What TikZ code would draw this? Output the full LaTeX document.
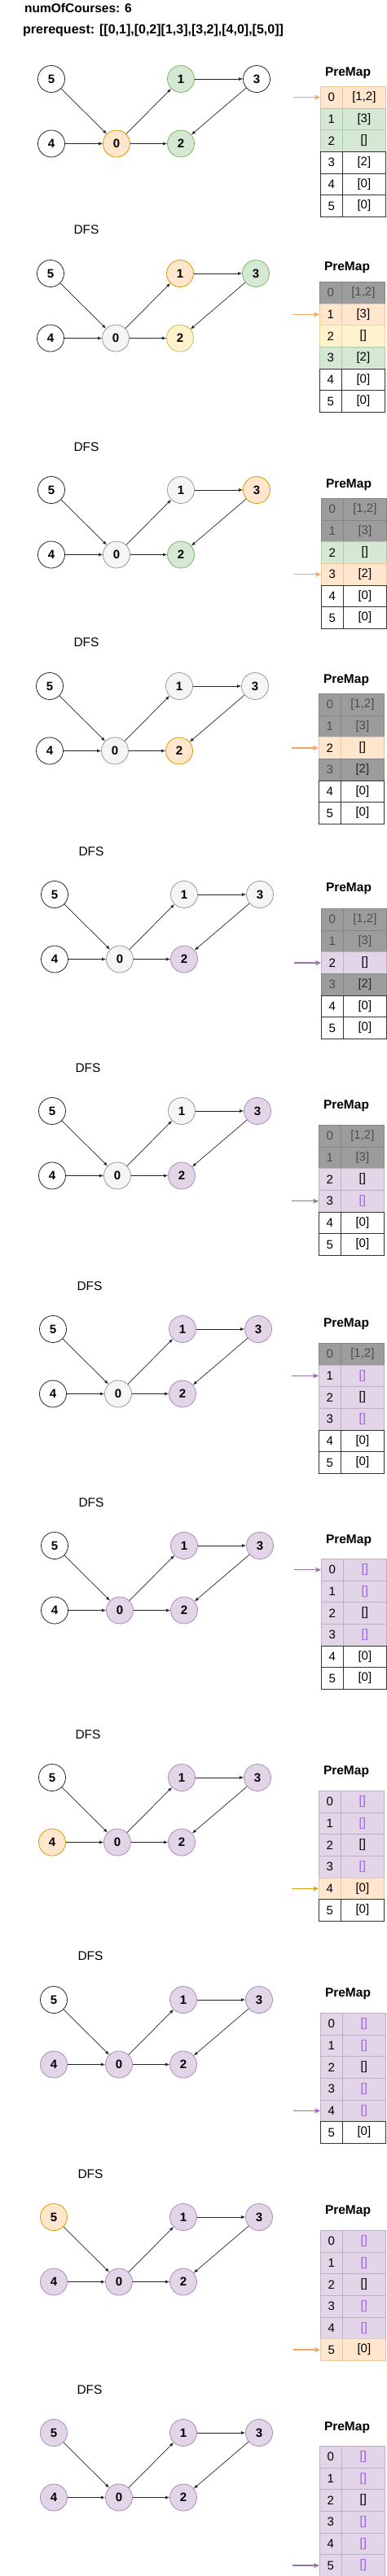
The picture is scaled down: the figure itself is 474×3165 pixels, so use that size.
\documentclass[tikz,border=0pt]{standalone}
\usepackage{fontspec}
\setmainfont{Liberation Sans}
\usetikzlibrary{arrows.meta}
\definecolor{orf}{HTML}{FFE6CC}\definecolor{ord}{HTML}{D79B00}
\definecolor{grf}{HTML}{D5E8D4}\definecolor{grd}{HTML}{82B366}
\definecolor{yef}{HTML}{FFF2CC}\definecolor{yed}{HTML}{D6B656}
\definecolor{lgf}{HTML}{F5F5F5}\definecolor{lgd}{HTML}{999999}
\definecolor{puf}{HTML}{E1D5E7}\definecolor{pud}{HTML}{A88DB8}
\definecolor{tgf}{HTML}{9C9C9C}\definecolor{tgd}{HTML}{858585}\definecolor{tgt}{HTML}{4D4D4D}
\definecolor{ocd}{HTML}{EBC79A}\definecolor{gcd}{HTML}{ADCBA7}
\definecolor{ycd}{HTML}{E6D7A3}\definecolor{pcd}{HTML}{BDB0C6}
\definecolor{vpur}{HTML}{A35CF2}
\definecolor{arrO}{HTML}{F4A562}\definecolor{arrP}{HTML}{9673A6}
\definecolor{arrG}{HTML}{D9A018}\definecolor{arrB}{HTML}{A855F7}
\tikzset{
 gnode/.style={circle,minimum size=33pt,inner sep=0pt,line width=0.8pt,font=\fontsize{15}{15}\selectfont\bfseries},
 nwh/.style={gnode,draw=black!85,fill=white},
 nor/.style={gnode,draw=ord,fill=orf},
 ngr/.style={gnode,draw=grd,fill=grf},
 nye/.style={gnode,draw=yed,fill=yef},
 nlg/.style={gnode,draw=lgd,fill=lgf},
 npu/.style={gnode,draw=pud,fill=puf},
 link/.style={line width=0.7pt,draw=black!85,-{Latex[length=5pt,width=4pt]}},
 cell/.style={rectangle,inner sep=0pt,minimum height=26.667pt,line width=0.8pt,font=\fontsize{15}{15}\selectfont},
 cw/.style={fill=white,draw=black!80,text=black},
 cg/.style={fill=tgf,draw=tgd,text=tgt},
 co/.style={fill=orf,draw=ocd,text=black},
 cgr/.style={fill=grf,draw=gcd,text=black},
 cy/.style={fill=yef,draw=ycd,text=black},
 cp/.style={fill=puf,draw=pcd,text=black},
 vp/.style={text=vpur},
 tarr/.style={line width=1.3pt,-{Stealth[length=7pt,width=6pt,inset=2pt]}},
 ttl/.style={font=\fontsize{15.5}{15.5}\selectfont\bfseries,inner sep=0pt,anchor=west},
 dfs/.style={font=\fontsize{15.5}{15.5}\selectfont,inner sep=0pt},
 pm/.style={font=\fontsize{15.5}{15.5}\selectfont\bfseries,inner sep=0pt},
}
\newcommand{\graphpanel}[9]{%
 \node[#4] (#1n5) at (#2,#3) {5};
 \node[#5] (#1n4) at (#2,#3+79.5) {4};
 \node[#6] (#1n0) at (#2+80,#3+79.5) {0};
 \node[#7] (#1n1) at (#2+159,#3) {1};
 \node[#8] (#1n2) at (#2+159,#3+79.5) {2};
 \node[#9] (#1n3) at (#2+252,#3) {3};
 \draw[link] (#1n5) -- (#1n0);
 \draw[link] (#1n4) -- (#1n0);
 \draw[link] (#1n0) -- (#1n1);
 \draw[link] (#1n0) -- (#1n2);
 \draw[link] (#1n1) -- (#1n3);
 \draw[link] (#1n3) -- (#1n2);
}
\newcommand{\pmrow}[7]{%
 \node[cell,#5,minimum width=27pt,anchor=north west] (#1r#4a) at (#2,#3+#4*26.667) {#4};
 \node[cell,#5,minimum width=53pt,anchor=north west,#7] (#1r#4b) at (#2+27,#3+#4*26.667) {#6};
}
\newcommand{\pmhead}[3]{\node[pm] (#1pm) at (#2+34,#3) {PreMap};}
\newcommand{\pmarrow}[3]{%
 \path (#1r#2a.west) ++(-33pt,0pt) coordinate (#1as);
 \draw[tarr,draw=#3,fill=#3] (#1as) -- (#1r#2a.west);
}
\begin{document}
\begin{tikzpicture}[x=1pt,y=-1pt]
\useasboundingbox (0,0) rectangle (474,3165);
\fill[white] (0,0) rectangle (474,3165);
\node[ttl] (t1) at (30,10) {numOfCourses: 6};
\node[ttl,font=\fontsize{16}{16}\selectfont\bfseries] (t2) at (28,37) {prerequest: [[0,1],[0,2][1,3],[3,2],[4,0],[5,0]]};
% Panel 1
\graphpanel{a}{63}{97}{nwh}{nwh}{nor}{ngr}{ngr}{nwh}
\pmhead{a}{393}{90}
\pmrow{a}{393}{106}{0}{co}{[1,2]}{}
\pmrow{a}{393}{106}{1}{cgr}{[3]}{}
\pmrow{a}{393}{106}{2}{cgr}{[]}{}
\pmrow{a}{393}{106}{3}{cw}{[2]}{}
\pmrow{a}{393}{106}{4}{cw}{[0]}{}
\pmrow{a}{393}{106}{5}{cw}{[0]}{}
\pmarrow{a}{0}{arrO}
% Panel 2
\node[dfs] (d2) at (106,282) {DFS};
\graphpanel{b}{62}{336}{nwh}{nwh}{nlg}{nor}{nye}{ngr}
\pmhead{b}{392}{329}
\pmrow{b}{392}{346}{0}{cg}{[1,2]}{}
\pmrow{b}{392}{346}{1}{co}{[3]}{}
\pmrow{b}{392}{346}{2}{cy}{[]}{}
\pmrow{b}{392}{346}{3}{cgr}{[2]}{}
\pmrow{b}{392}{346}{4}{cw}{[0]}{}
\pmrow{b}{392}{346}{5}{cw}{[0]}{}
\pmarrow{b}{1}{arrO}
% Panel 3
\node[dfs] (d3) at (106,549) {DFS};
\graphpanel{c}{63}{602}{nwh}{nwh}{nlg}{nlg}{ngr}{nor}
\pmhead{c}{394}{596}
\pmrow{c}{394}{612}{0}{cg}{[1,2]}{}
\pmrow{c}{394}{612}{1}{cg}{[3]}{}
\pmrow{c}{394}{612}{2}{cgr}{[]}{}
\pmrow{c}{394}{612}{3}{co}{[2]}{}
\pmrow{c}{394}{612}{4}{cw}{[0]}{}
\pmrow{c}{394}{612}{5}{cw}{[0]}{}
\pmarrow{c}{3}{arrO}
% Panel 4
\node[dfs] (d4) at (106,789) {DFS};
\graphpanel{d}{61}{843}{nwh}{nwh}{nlg}{nlg}{nor}{nlg}
\pmhead{d}{391}{836}
\pmrow{d}{391}{852}{0}{cg}{[1,2]}{}
\pmrow{d}{391}{852}{1}{cg}{[3]}{}
\pmrow{d}{391}{852}{2}{co}{[]}{}
\pmrow{d}{391}{852}{3}{cg}{[2]}{text=black!85}
\pmrow{d}{391}{852}{4}{cw}{[0]}{}
\pmrow{d}{391}{852}{5}{cw}{[0]}{}
\pmarrow{d}{2}{arrO}
% Panel 5
\node[dfs] (d5) at (112,1046) {DFS};
\graphpanel{e}{67}{1099}{nwh}{nwh}{nlg}{nlg}{npu}{nlg}
\pmhead{e}{394}{1092}
\pmrow{e}{394}{1116}{0}{cg}{[1,2]}{}
\pmrow{e}{394}{1116}{1}{cg}{[3]}{}
\pmrow{e}{394}{1116}{2}{cp}{[]}{}
\pmrow{e}{394}{1116}{3}{cg}{[2]}{text=black!85}
\pmrow{e}{394}{1116}{4}{cw}{[0]}{}
\pmrow{e}{394}{1116}{5}{cw}{[0]}{}
\pmarrow{e}{2}{arrP}
% Panel 6
\node[dfs] (d6) at (108,1312) {DFS};
\graphpanel{f}{64}{1365}{nwh}{nwh}{nlg}{nlg}{npu}{npu}
\pmhead{f}{391}{1359}
\pmrow{f}{391}{1382}{0}{cg}{[1,2]}{}
\pmrow{f}{391}{1382}{1}{cg}{[3]}{}
\pmrow{f}{391}{1382}{2}{cp}{[]}{}
\pmrow{f}{391}{1382}{3}{cp}{[]}{vp}
\pmrow{f}{391}{1382}{4}{cw}{[0]}{}
\pmrow{f}{391}{1382}{5}{cw}{[0]}{}
\pmarrow{f}{3}{arrP}
% Panel 7
\node[dfs] (d7) at (110,1580) {DFS};
\graphpanel{g}{65}{1633}{nwh}{nwh}{nlg}{npu}{npu}{npu}
\pmhead{g}{391}{1627}
\pmrow{g}{391}{1650}{0}{cg}{[1,2]}{}
\pmrow{g}{391}{1650}{1}{cp}{[]}{vp}
\pmrow{g}{391}{1650}{2}{cp}{[]}{}
\pmrow{g}{391}{1650}{3}{cp}{[]}{vp}
\pmrow{g}{391}{1650}{4}{cw}{[0]}{}
\pmrow{g}{391}{1650}{5}{cw}{[0]}{}
\pmarrow{g}{1}{arrP}
% Panel 8
\node[dfs] (d8) at (112,1846) {DFS};
\graphpanel{h}{67}{1899}{nwh}{nwh}{npu}{npu}{npu}{npu}
\pmhead{h}{394}{1893}
\pmrow{h}{394}{1915}{0}{cp}{[]}{vp}
\pmrow{h}{394}{1915}{1}{cp}{[]}{vp}
\pmrow{h}{394}{1915}{2}{cp}{[]}{}
\pmrow{h}{394}{1915}{3}{cp}{[]}{vp}
\pmrow{h}{394}{1915}{4}{cw}{[0]}{}
\pmrow{h}{394}{1915}{5}{cw}{[0]}{}
\pmarrow{h}{0}{arrP}
% Panel 9
\node[dfs] (d9) at (108,2131) {DFS};
\graphpanel{i}{64}{2184}{nwh}{nor}{npu}{npu}{npu}{npu}
\pmhead{i}{391}{2177}
\pmrow{i}{391}{2200}{0}{cp}{[]}{vp}
\pmrow{i}{391}{2200}{1}{cp}{[]}{vp}
\pmrow{i}{391}{2200}{2}{cp}{[]}{}
\pmrow{i}{391}{2200}{3}{cp}{[]}{vp}
\pmrow{i}{391}{2200}{4}{co}{[0]}{}
\pmrow{i}{391}{2200}{5}{cw}{[0]}{}
\pmarrow{i}{4}{arrG}
% Panel 10
\node[dfs] (d10) at (111,2403) {DFS};
\graphpanel{j}{66}{2457}{nwh}{npu}{npu}{npu}{npu}{npu}
\pmhead{j}{393}{2450}
\pmrow{j}{393}{2473}{0}{cp}{[]}{vp}
\pmrow{j}{393}{2473}{1}{cp}{[]}{vp}
\pmrow{j}{393}{2473}{2}{cp}{[]}{}
\pmrow{j}{393}{2473}{3}{cp}{[]}{vp}
\pmrow{j}{393}{2473}{4}{cp}{[]}{vp}
\pmrow{j}{393}{2473}{5}{cw}{[0]}{}
\pmarrow{j}{4}{arrB}
% Panel 11
\node[dfs] (d11) at (111,2671) {DFS};
\graphpanel{k}{66}{2724}{nor}{npu}{npu}{npu}{npu}{npu}
\pmhead{k}{393}{2717}
\pmrow{k}{393}{2740}{0}{cp}{[]}{vp}
\pmrow{k}{393}{2740}{1}{cp}{[]}{vp}
\pmrow{k}{393}{2740}{2}{cp}{[]}{}
\pmrow{k}{393}{2740}{3}{cp}{[]}{vp}
\pmrow{k}{393}{2740}{4}{cp}{[]}{vp}
\pmrow{k}{393}{2740}{5}{co}{[0]}{}
\pmarrow{k}{5}{arrO}
% Panel 12
\node[dfs] (d12) at (110,2936) {DFS};
\graphpanel{l}{66}{2989}{npu}{npu}{npu}{npu}{npu}{npu}
\pmhead{l}{392}{2983}
\pmrow{l}{392}{3005}{0}{cp}{[]}{vp}
\pmrow{l}{392}{3005}{1}{cp}{[]}{vp}
\pmrow{l}{392}{3005}{2}{cp}{[]}{}
\pmrow{l}{392}{3005}{3}{cp}{[]}{vp}
\pmrow{l}{392}{3005}{4}{cp}{[]}{vp}
\pmrow{l}{392}{3005}{5}{cp}{[]}{vp}
\pmarrow{l}{5}{arrP}
\end{tikzpicture}
\end{document}
